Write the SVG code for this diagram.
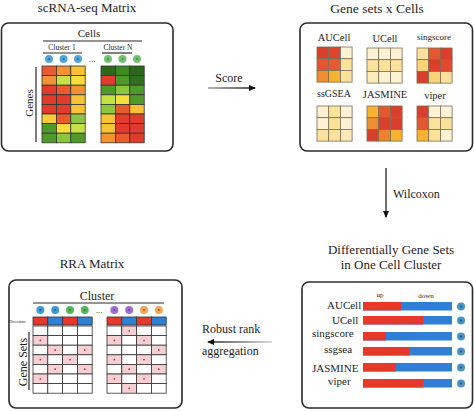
<svg xmlns="http://www.w3.org/2000/svg" width="474" height="411" viewBox="0 0 474 411">
<style>
.t{font-family:"Liberation Serif","Times New Roman",serif;fill:#1e1e1e}
.box{fill:#fff;stroke:#2b2b2b;stroke-width:1.6}
.c rect{stroke:#333;stroke-width:0.8}
.g rect{stroke:#7a6d55;stroke-width:0.8}
.r rect{stroke:#333;stroke-width:0.8;fill:#fff}
.r rect.p{fill:#f6cfd3}
.r circle{fill:#b04040}
.ln{stroke:#2b2b2b;stroke-width:1.2}
.dot{fill:#1f4f78}
</style>
<defs>
<marker id="ah" markerWidth="8" markerHeight="8" refX="6" refY="3" orient="auto" markerUnits="userSpaceOnUse">
<path d="M0,0 L7,3 L0,6 z" fill="#111"/>
</marker>
<linearGradient id="gs" gradientUnits="userSpaceOnUse" x1="208" y1="0" x2="258" y2="0">
<stop offset="0" stop-color="#9a9a9a"/><stop offset="1" stop-color="#111"/>
</linearGradient>
<linearGradient id="gr" gradientUnits="userSpaceOnUse" x1="272" y1="0" x2="205" y2="0">
<stop offset="0" stop-color="#d0d0d0"/><stop offset="1" stop-color="#111"/>
</linearGradient>
</defs>

<!-- scRNA-seq Matrix -->
<g id="scrna">
<text class="t" x="87" y="12" font-size="13" text-anchor="middle">scRNA-seq Matrix</text>
<rect class="box" x="1.5" y="23" width="171.5" height="128" rx="7"/>
<text class="t" x="89" y="37" font-size="11" text-anchor="middle">Cells</text>
<line class="ln" x1="43" y1="41" x2="142" y2="41"/>
<text class="t" x="62" y="50" font-size="7.5" text-anchor="middle">Cluster 1</text>
<text class="t" x="118" y="50" font-size="7.5" text-anchor="middle">Cluster N</text>
<line class="ln" x1="43" y1="53" x2="82" y2="53" stroke-width="1"/>
<line class="ln" x1="102" y1="53" x2="132" y2="53" stroke-width="1"/>
<g fill="#4fa6da"><circle cx="49" cy="59" r="4"/><circle cx="63.5" cy="59" r="4"/><circle cx="78" cy="59" r="4"/></g>
<g fill="#74c174"><circle cx="108" cy="59" r="4"/><circle cx="122.5" cy="59" r="4"/><circle cx="137" cy="59" r="4"/></g>
<g fill="#2a6f9e"><circle cx="49" cy="59" r="1"/><circle cx="63.5" cy="59" r="1"/><circle cx="78" cy="59" r="1"/></g>
<g fill="#3c8a3c"><circle cx="108" cy="59" r="1"/><circle cx="122.5" cy="59" r="1"/><circle cx="137" cy="59" r="1"/></g>
<text class="t" x="92" y="62" font-size="9" text-anchor="middle">...</text>
<line class="ln" x1="36" y1="67" x2="36" y2="142"/>
<text class="t" font-size="11" text-anchor="middle" transform="translate(33,103) rotate(-90)">Genes</text>
<g class="c">
<rect x="42" y="66" width="14.4" height="9.6" fill="#e95a2f"/><rect x="56.4" y="66" width="14.4" height="9.6" fill="#f19330"/><rect x="70.8" y="66" width="14.4" height="9.6" fill="#f7c233"/>
<rect x="42" y="75.6" width="14.4" height="9.6" fill="#f19330"/><rect x="56.4" y="75.6" width="14.4" height="9.6" fill="#c5e142"/><rect x="70.8" y="75.6" width="14.4" height="9.6" fill="#f8dc3c"/>
<rect x="42" y="85.2" width="14.4" height="9.6" fill="#e23b2b"/><rect x="56.4" y="85.2" width="14.4" height="9.6" fill="#e95a2f"/><rect x="70.8" y="85.2" width="14.4" height="9.6" fill="#f19330"/>
<rect x="42" y="94.8" width="14.4" height="9.6" fill="#e23b2b"/><rect x="56.4" y="94.8" width="14.4" height="9.6" fill="#e23b2b"/><rect x="70.8" y="94.8" width="14.4" height="9.6" fill="#f7c233"/>
<rect x="42" y="104.4" width="14.4" height="9.6" fill="#e23b2b"/><rect x="56.4" y="104.4" width="14.4" height="9.6" fill="#e23b2b"/><rect x="70.8" y="104.4" width="14.4" height="9.6" fill="#f7c233"/>
<rect x="42" y="114" width="14.4" height="9.6" fill="#f7cd38"/><rect x="56.4" y="114" width="14.4" height="9.6" fill="#e95a2f"/><rect x="70.8" y="114" width="14.4" height="9.6" fill="#8cc63e"/>
<rect x="42" y="123.6" width="14.4" height="9.6" fill="#4f9a28"/><rect x="56.4" y="123.6" width="14.4" height="9.6" fill="#f8dc3c"/><rect x="70.8" y="123.6" width="14.4" height="9.6" fill="#c5e142"/>
<rect x="42" y="133.2" width="14.4" height="9.6" fill="#4f9a28"/><rect x="56.4" y="133.2" width="14.4" height="9.6" fill="#8cc63e"/><rect x="70.8" y="133.2" width="14.4" height="9.6" fill="#4f9a28"/>
<rect x="101" y="66" width="14.4" height="9.6" fill="#2c6a19"/><rect x="115.4" y="66" width="14.4" height="9.6" fill="#3e8a22"/><rect x="129.8" y="66" width="14.4" height="9.6" fill="#2c6a19"/>
<rect x="101" y="75.6" width="14.4" height="9.6" fill="#e23b2b"/><rect x="115.4" y="75.6" width="14.4" height="9.6" fill="#4f9a28"/><rect x="129.8" y="75.6" width="14.4" height="9.6" fill="#2f701c"/>
<rect x="101" y="85.2" width="14.4" height="9.6" fill="#4f9a28"/><rect x="115.4" y="85.2" width="14.4" height="9.6" fill="#8cc63e"/><rect x="129.8" y="85.2" width="14.4" height="9.6" fill="#4f9a28"/>
<rect x="101" y="94.8" width="14.4" height="9.6" fill="#c5e142"/><rect x="115.4" y="94.8" width="14.4" height="9.6" fill="#f8dc3c"/><rect x="129.8" y="94.8" width="14.4" height="9.6" fill="#4f9a28"/>
<rect x="101" y="104.4" width="14.4" height="9.6" fill="#8cc63e"/><rect x="115.4" y="104.4" width="14.4" height="9.6" fill="#e95a2f"/><rect x="129.8" y="104.4" width="14.4" height="9.6" fill="#f7c233"/>
<rect x="101" y="114" width="14.4" height="9.6" fill="#f7c233"/><rect x="115.4" y="114" width="14.4" height="9.6" fill="#e23b2b"/><rect x="129.8" y="114" width="14.4" height="9.6" fill="#e23b2b"/>
<rect x="101" y="123.6" width="14.4" height="9.6" fill="#f7c233"/><rect x="115.4" y="123.6" width="14.4" height="9.6" fill="#e23b2b"/><rect x="129.8" y="123.6" width="14.4" height="9.6" fill="#e23b2b"/>
<rect x="101" y="133.2" width="14.4" height="9.6" fill="#f19330"/><rect x="115.4" y="133.2" width="14.4" height="9.6" fill="#e95a2f"/><rect x="129.8" y="133.2" width="14.4" height="9.6" fill="#e23b2b"/>
</g>
</g>

<!-- Gene sets x Cells -->
<g id="genesets">
<text class="t" x="377" y="13" font-size="13.5" text-anchor="middle">Gene sets x Cells</text>
<rect class="box" x="300" y="23" width="172.5" height="128" rx="7"/>
<text class="t" x="334" y="41" font-size="10.5" text-anchor="middle">AUCell</text>
<text class="t" x="385" y="42" font-size="10.5" text-anchor="middle">UCell</text>
<text class="t" x="434" y="40" font-size="9" text-anchor="middle">singscore</text>
<text class="t" x="334" y="97" font-size="10" text-anchor="middle">ssGSEA</text>
<text class="t" x="385" y="98" font-size="10.5" text-anchor="middle">JASMINE</text>
<text class="t" x="435" y="99" font-size="10.5" text-anchor="middle">viper</text>
<g class="g" transform="translate(317,47)">
<rect x="0" y="0" width="11.7" height="11.7" fill="#db3e2d"/><rect x="11.7" y="0" width="11.7" height="11.7" fill="#dd432d"/><rect x="23.4" y="0" width="11.7" height="11.7" fill="#fdf3d4"/>
<rect x="0" y="11.7" width="11.7" height="11.7" fill="#e5552f"/><rect x="11.7" y="11.7" width="11.7" height="11.7" fill="#e65c30"/><rect x="23.4" y="11.7" width="11.7" height="11.7" fill="#fbe29a"/>
<rect x="0" y="23.4" width="11.7" height="11.7" fill="#ef8b30"/><rect x="11.7" y="23.4" width="11.7" height="11.7" fill="#f5b331"/><rect x="23.4" y="23.4" width="11.7" height="11.7" fill="#fbe29a"/>
</g>
<g class="g" transform="translate(367,48)">
<rect x="0" y="0" width="11.7" height="11.7" fill="#fdf3d4"/><rect x="11.7" y="0" width="11.7" height="11.7" fill="#fdf3d4"/><rect x="23.4" y="0" width="11.7" height="11.7" fill="#fdf3d4"/>
<rect x="0" y="11.7" width="11.7" height="11.7" fill="#fbe29a"/><rect x="11.7" y="11.7" width="11.7" height="11.7" fill="#fbe29a"/><rect x="23.4" y="11.7" width="11.7" height="11.7" fill="#fbe29a"/>
<rect x="0" y="23.4" width="11.7" height="11.7" fill="#fcebb8"/><rect x="11.7" y="23.4" width="11.7" height="11.7" fill="#fdf3d4"/><rect x="23.4" y="23.4" width="11.7" height="11.7" fill="#fdf3d4"/>
</g>
<g class="g" transform="translate(417,48)">
<rect x="0" y="0" width="11.7" height="11.7" fill="#fbe29a"/><rect x="11.7" y="0" width="11.7" height="11.7" fill="#e5582f"/><rect x="23.4" y="0" width="11.7" height="11.7" fill="#db3e2d"/>
<rect x="0" y="11.7" width="11.7" height="11.7" fill="#f9d377"/><rect x="11.7" y="11.7" width="11.7" height="11.7" fill="#db3e2d"/><rect x="23.4" y="11.7" width="11.7" height="11.7" fill="#e14a2e"/>
<rect x="0" y="23.4" width="11.7" height="11.7" fill="#db3e2d"/><rect x="11.7" y="23.4" width="11.7" height="11.7" fill="#f9d377"/><rect x="23.4" y="23.4" width="11.7" height="11.7" fill="#fbe29a"/>
</g>
<g class="g" transform="translate(317,106)">
<rect x="0" y="0" width="11.7" height="11.7" fill="#fdf3d4"/><rect x="11.7" y="0" width="11.7" height="11.7" fill="#fbe29a"/><rect x="23.4" y="0" width="11.7" height="11.7" fill="#fdf3d4"/>
<rect x="0" y="11.7" width="11.7" height="11.7" fill="#fdf3d4"/><rect x="11.7" y="11.7" width="11.7" height="11.7" fill="#fbe29a"/><rect x="23.4" y="11.7" width="11.7" height="11.7" fill="#fdf3d4"/>
<rect x="0" y="23.4" width="11.7" height="11.7" fill="#fbe29a"/><rect x="11.7" y="23.4" width="11.7" height="11.7" fill="#fbe29a"/><rect x="23.4" y="23.4" width="11.7" height="11.7" fill="#fcebb8"/>
</g>
<g class="g" transform="translate(367,106)">
<rect x="0" y="0" width="11.7" height="11.7" fill="#f5b331"/><rect x="11.7" y="0" width="11.7" height="11.7" fill="#e5582f"/><rect x="23.4" y="0" width="11.7" height="11.7" fill="#db3e2d"/>
<rect x="0" y="11.7" width="11.7" height="11.7" fill="#ef8b30"/><rect x="11.7" y="11.7" width="11.7" height="11.7" fill="#db3e2d"/><rect x="23.4" y="11.7" width="11.7" height="11.7" fill="#db3e2d"/>
<rect x="0" y="23.4" width="11.7" height="11.7" fill="#db3e2d"/><rect x="11.7" y="23.4" width="11.7" height="11.7" fill="#ef8030"/><rect x="23.4" y="23.4" width="11.7" height="11.7" fill="#f5b331"/>
</g>
<g class="g" transform="translate(417,106)">
<rect x="0" y="0" width="11.7" height="11.7" fill="#db3e2d"/><rect x="11.7" y="0" width="11.7" height="11.7" fill="#fdf3d4"/><rect x="23.4" y="0" width="11.7" height="11.7" fill="#fdf3d4"/>
<rect x="0" y="11.7" width="11.7" height="11.7" fill="#e5582f"/><rect x="11.7" y="11.7" width="11.7" height="11.7" fill="#fbe29a"/><rect x="23.4" y="11.7" width="11.7" height="11.7" fill="#fbe29a"/>
<rect x="0" y="23.4" width="11.7" height="11.7" fill="#f5b331"/><rect x="11.7" y="23.4" width="11.7" height="11.7" fill="#fbe29a"/><rect x="23.4" y="23.4" width="11.7" height="11.7" fill="#fdf3d4"/>
</g>
</g>

<!-- Differentially Gene Sets -->
<g id="diffsets">
<text class="t" x="391" y="254" font-size="13" text-anchor="middle">Differentially Gene Sets</text>
<text class="t" x="391" y="269" font-size="13" text-anchor="middle">in One Cell Cluster</text>
<rect class="box" x="302" y="282" width="170.5" height="126" rx="7"/>
<text class="t" x="380" y="297" font-size="7" text-anchor="middle">up</text>
<text class="t" x="426" y="298" font-size="7" text-anchor="middle">down</text>
<g class="t" font-size="11">
<text x="327" y="309">AUCell</text>
<text x="332" y="324">UCell</text>
<text x="312" y="337">singscore</text>
<text x="324" y="353">ssgsea</text>
<text x="312" y="372">JASMINE</text>
<text x="328" y="385">viper</text>
</g>
<g fill="#2f7fd6">
<rect x="363" y="302" width="89" height="8.5"/>
<rect x="363" y="316" width="89" height="8.5"/>
<rect x="363" y="332" width="89" height="8.5"/>
<rect x="363" y="347" width="89" height="8.5"/>
<rect x="363" y="363" width="89" height="8.5"/>
<rect x="363" y="379" width="89" height="8.5"/>
</g>
<g fill="#e8382c">
<rect x="363" y="302" width="38" height="8.5"/>
<rect x="363" y="316" width="60" height="8.5"/>
<rect x="363" y="332" width="23" height="8.5"/>
<rect x="363" y="347" width="46.5" height="8.5"/>
<rect x="363" y="363" width="33" height="8.5"/>
<rect x="363" y="379" width="60" height="8.5"/>
</g>
<g fill="#4b94c6">
<circle cx="461" cy="306.5" r="4"/><circle cx="461" cy="320.5" r="4"/><circle cx="461" cy="336.5" r="4"/>
<circle cx="461" cy="351.5" r="4"/><circle cx="461" cy="367.5" r="4"/><circle cx="461" cy="383.5" r="4"/>
</g>
<g class="dot">
<circle cx="461" cy="306.5" r="1"/><circle cx="461" cy="320.5" r="1"/><circle cx="461" cy="336.5" r="1"/>
<circle cx="461" cy="351.5" r="1"/><circle cx="461" cy="367.5" r="1"/><circle cx="461" cy="383.5" r="1"/>
</g>
</g>

<!-- RRA Matrix -->
<g id="rra">
<text class="t" x="92" y="268" font-size="13" text-anchor="middle">RRA Matrix</text>
<rect class="box" x="9" y="280" width="173" height="128" rx="7"/>
<text class="t" x="97" y="300" font-size="12" text-anchor="middle">Cluster</text>
<line class="ln" x1="33" y1="303" x2="164" y2="303"/>
<circle cx="40.4" cy="310" r="4" fill="#3a9ad9"/><circle cx="55.2" cy="310" r="4" fill="#3a9ad9"/>
<circle cx="70" cy="310" r="4" fill="#58b65a"/><circle cx="84.8" cy="310" r="4" fill="#58b65a"/>
<circle cx="114.4" cy="310" r="4" fill="#9b72cf"/><circle cx="129.2" cy="310" r="4" fill="#9b72cf"/>
<circle cx="144" cy="310" r="4" fill="#f2a65a"/><circle cx="158.8" cy="310" r="4" fill="#f2a65a"/>
<g fill="#333" opacity="0.6">
<circle cx="40.4" cy="310" r="0.9"/><circle cx="55.2" cy="310" r="0.9"/><circle cx="70" cy="310" r="0.9"/><circle cx="84.8" cy="310" r="0.9"/>
<circle cx="114.4" cy="310" r="0.9"/><circle cx="129.2" cy="310" r="0.9"/><circle cx="144" cy="310" r="0.9"/><circle cx="158.8" cy="310" r="0.9"/>
</g>
<text class="t" x="99" y="313" font-size="9" text-anchor="middle">...</text>
<text class="t" x="17" y="323" font-size="4.5" text-anchor="middle">Direction</text>
<g stroke="#333" stroke-width="0.8">
<rect x="33" y="317" width="14.8" height="8" fill="#e8362a"/><rect x="47.8" y="317" width="14.8" height="8" fill="#2f7fd6"/><rect x="62.6" y="317" width="14.8" height="8" fill="#e8362a"/><rect x="77.4" y="317" width="14.8" height="8" fill="#2f7fd6"/>
<rect x="107" y="317" width="14.8" height="8" fill="#e8362a"/><rect x="121.8" y="317" width="14.8" height="8" fill="#2f7fd6"/><rect x="136.6" y="317" width="14.8" height="8" fill="#e8362a"/><rect x="151.4" y="317" width="14.8" height="8" fill="#2f7fd6"/>
</g>
<g class="r">
<rect x="33" y="326" width="14.8" height="9.6"/><rect x="47.8" y="326" width="14.8" height="9.6"/><rect x="62.6" y="326" width="14.8" height="9.6"/><rect x="77.4" y="326" width="14.8" height="9.6"/>
<rect class="p" x="33" y="335.6" width="14.8" height="9.6"/><rect x="47.8" y="335.6" width="14.8" height="9.6"/><rect x="62.6" y="335.6" width="14.8" height="9.6"/><rect x="77.4" y="335.6" width="14.8" height="9.6"/>
<rect x="33" y="345.2" width="14.8" height="9.6"/><rect class="p" x="47.8" y="345.2" width="14.8" height="9.6"/><rect x="62.6" y="345.2" width="14.8" height="9.6"/><rect class="p" x="77.4" y="345.2" width="14.8" height="9.6"/>
<rect class="p" x="33" y="354.8" width="14.8" height="9.6"/><rect x="47.8" y="354.8" width="14.8" height="9.6"/><rect class="p" x="62.6" y="354.8" width="14.8" height="9.6"/><rect x="77.4" y="354.8" width="14.8" height="9.6"/>
<rect x="33" y="364.4" width="14.8" height="9.6"/><rect class="p" x="47.8" y="364.4" width="14.8" height="9.6"/><rect x="62.6" y="364.4" width="14.8" height="9.6"/><rect class="p" x="77.4" y="364.4" width="14.8" height="9.6"/>
<rect class="p" x="33" y="374" width="14.8" height="9.6"/><rect x="47.8" y="374" width="14.8" height="9.6"/><rect x="62.6" y="374" width="14.8" height="9.6"/><rect x="77.4" y="374" width="14.8" height="9.6"/>
<rect x="33" y="383.6" width="14.8" height="9.6"/><rect x="47.8" y="383.6" width="14.8" height="9.6"/><rect x="62.6" y="383.6" width="14.8" height="9.6"/><rect x="77.4" y="383.6" width="14.8" height="9.6"/>

<rect x="107" y="326" width="14.8" height="9.6"/><rect class="p" x="121.8" y="326" width="14.8" height="9.6"/><rect x="136.6" y="326" width="14.8" height="9.6"/><rect x="151.4" y="326" width="14.8" height="9.6"/>
<rect class="p" x="107" y="335.6" width="14.8" height="9.6"/><rect x="121.8" y="335.6" width="14.8" height="9.6"/><rect class="p" x="136.6" y="335.6" width="14.8" height="9.6"/><rect x="151.4" y="335.6" width="14.8" height="9.6"/>
<rect x="107" y="345.2" width="14.8" height="9.6"/><rect x="121.8" y="345.2" width="14.8" height="9.6"/><rect x="136.6" y="345.2" width="14.8" height="9.6"/><rect class="p" x="151.4" y="345.2" width="14.8" height="9.6"/>
<rect class="p" x="107" y="354.8" width="14.8" height="9.6"/><rect x="121.8" y="354.8" width="14.8" height="9.6"/><rect class="p" x="136.6" y="354.8" width="14.8" height="9.6"/><rect x="151.4" y="354.8" width="14.8" height="9.6"/>
<rect x="107" y="364.4" width="14.8" height="9.6"/><rect class="p" x="121.8" y="364.4" width="14.8" height="9.6"/><rect x="136.6" y="364.4" width="14.8" height="9.6"/><rect class="p" x="151.4" y="364.4" width="14.8" height="9.6"/>
<rect class="p" x="107" y="374" width="14.8" height="9.6"/><rect x="121.8" y="374" width="14.8" height="9.6"/><rect class="p" x="136.6" y="374" width="14.8" height="9.6"/><rect x="151.4" y="374" width="14.8" height="9.6"/>
<rect x="107" y="383.6" width="14.8" height="9.6"/><rect class="p" x="121.8" y="383.6" width="14.8" height="9.6"/><rect x="136.6" y="383.6" width="14.8" height="9.6"/><rect x="151.4" y="383.6" width="14.8" height="9.6"/>

<circle cx="40.4" cy="340.4" r="0.9"/><circle cx="55.2" cy="350" r="0.9"/><circle cx="84.8" cy="350" r="0.9"/>
<circle cx="40.4" cy="359.6" r="0.9"/><circle cx="70" cy="359.6" r="0.9"/><circle cx="55.2" cy="369.2" r="0.9"/><circle cx="84.8" cy="369.2" r="0.9"/><circle cx="40.4" cy="378.8" r="0.9"/>
<circle cx="129.2" cy="330.8" r="0.9"/><circle cx="114.4" cy="340.4" r="0.9"/><circle cx="144" cy="340.4" r="0.9"/><circle cx="158.8" cy="350" r="0.9"/>
<circle cx="114.4" cy="359.6" r="0.9"/><circle cx="144" cy="359.6" r="0.9"/><circle cx="129.2" cy="369.2" r="0.9"/><circle cx="158.8" cy="369.2" r="0.9"/>
<circle cx="114.4" cy="378.8" r="0.9"/><circle cx="144" cy="378.8" r="0.9"/><circle cx="129.2" cy="388.4" r="0.9"/>
</g>
<line class="ln" x1="29" y1="332" x2="29" y2="390"/>
<text class="t" font-size="12" text-anchor="middle" transform="translate(27,362) rotate(-90)">Gene Sets</text>
</g>

<!-- connectors -->
<g id="connectors">
<line x1="208" y1="88" x2="255" y2="88" stroke="url(#gs)" stroke-width="1.5" marker-end="url(#ah)"/>
<text class="t" x="229" y="82" font-size="12" text-anchor="middle">Score</text>
<line x1="386" y1="168" x2="386" y2="217" stroke="#222" stroke-width="1.3" marker-end="url(#ah)"/>
<text class="t" x="393" y="198" font-size="12">Wilcoxon</text>
<line x1="272" y1="342" x2="208" y2="342" stroke="url(#gr)" stroke-width="1.6" marker-end="url(#ah)"/>
<text class="t" x="202" y="333" font-size="12">Robust rank</text>
<text class="t" x="202" y="355" font-size="12">aggregation</text>
</g>
</svg>
